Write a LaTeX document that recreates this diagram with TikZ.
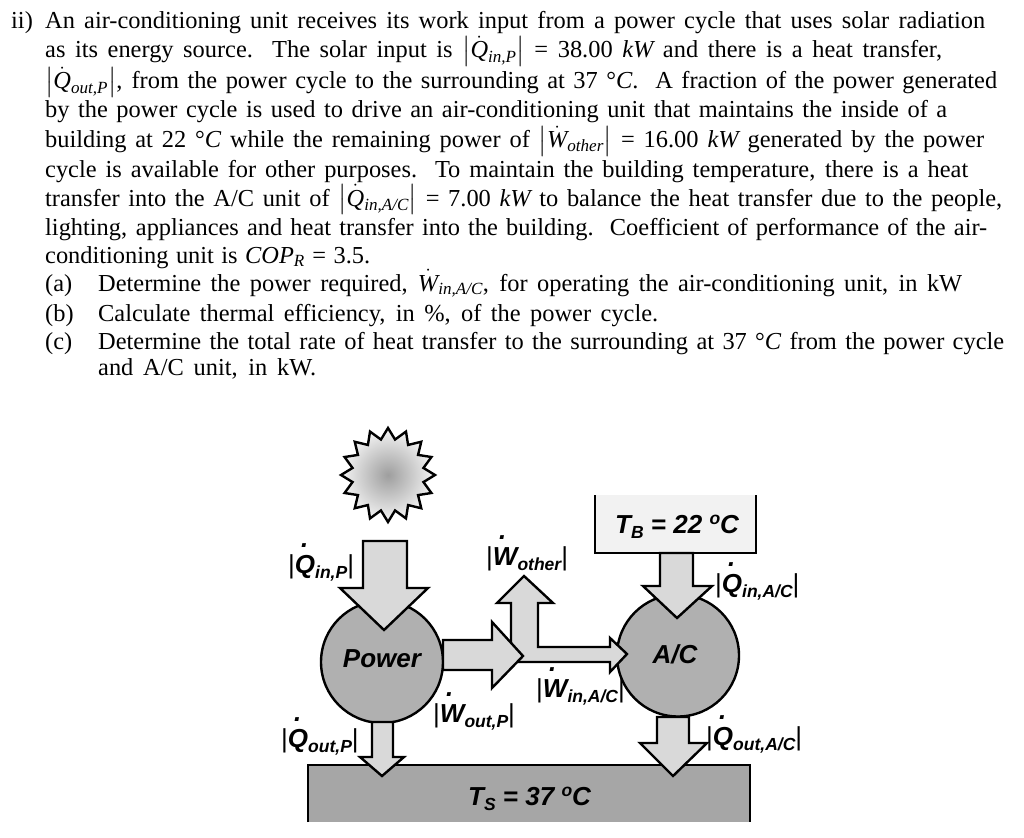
\documentclass[tikz,border=0pt]{standalone}
\usepackage{amsmath}
\usepackage{fontspec}
\setmainfont{Liberation Serif}
\setsansfont{Liberation Sans}
\usetikzlibrary{shapes.geometric}
\newcommand\dq[1]{\rlap{\raisebox{.98em}{\hspace{.24em}.}}#1}
\newcommand\flux[2]{{\sffamily\fontsize{26}{26}\selectfont\textup{\mdseries|}\bfseries\itshape\dq{#1}\raisebox{-5pt}{\fontsize{17.5}{17.5}\selectfont #2}\textup{\mdseries|}}}
\newcommand\mQ[1]{$\bigl|\dot{\text{\itshape Q}}_{\text{\itshape #1}}\bigr|$}
\newcommand\mW[1]{$\bigl|\dot{\text{\itshape W}}_{\text{\itshape #1}}\bigr|$}
\newcommand\li[1]{\itshape #1\upshape}
\newcommand\fitline[2]{\makebox[#1pt][s]{#2}}
\tikzset{
  txt/.style={anchor=base west,inner sep=0pt,font=\fontsize{24.4}{26}\selectfont},
  lab/.style={anchor=base west,inner sep=0pt},
  bigtxt/.style={inner sep=0pt,font=\sffamily\bfseries\itshape\fontsize{26}{26}\selectfont},
  unit/.style={circle,draw=black,line width=2.4pt,fill=black!31,minimum size=122pt,inner sep=0pt},
  blockarrow/.style={draw=black,line width=2.4pt,fill=black!15,line join=miter,miter limit=6},
  bodyline/.style={line width=2.4pt}
}
\begin{document}
\begin{tikzpicture}[x=1pt,y=-1pt]
\useasboundingbox (0,0) rectangle (1024,837);
% text
\node[txt] (t0) at (11,29) {ii)};
\node[txt] (t1) at (45,29) {\fitline{940}{An air-conditioning unit receives its work input from a power cycle that uses solar radiation}};
\node[txt] (t2) at (45,58) {\fitline{897}{as its energy source.\ \ The solar input is \mQ{in,P} = 38.00 \li{kW} and there is a heat transfer,}};
\node[txt] (t3) at (45,89) {\fitline{952}{\mQ{out,P}, from the power cycle to the surrounding at 37 °\li{C}.\ \ A fraction of the power generated}};
\node[txt] (t4) at (45,118) {\fitline{902}{by the power cycle is used to drive an air-conditioning unit that maintains the inside of a}};
\node[txt] (t5) at (45,148) {\fitline{939}{building at 22 °\li{C} while the remaining power of \mW{other} = 16.00 \li{kW} generated by the power}};
\node[txt] (t6) at (45,177) {\fitline{923}{cycle is available for other purposes.\ \ To maintain the building temperature, there is a heat}};
\node[txt] (t7) at (45,206) {\fitline{957}{transfer into the A/C unit of \mQ{in,A/C} = 7.00 \li{kW} to balance the heat transfer due to the people,}};
\node[txt] (t8) at (45,235) {\fitline{942}{lighting, appliances and heat transfer into the building.\ \ Coefficient of performance of the air-}};
\node[txt] (t9) at (45,263) {\fitline{325}{conditioning unit is \li{COP}$_{\text{\itshape R}}$ = 3.5.}};
\node[txt] (a0) at (45,291) {(a)};
\node[txt] (a1) at (98,291) {\fitline{864}{Determine the power required, $\dot{\text{\itshape W}}_{\text{\itshape in,A/C}}$, for operating the air-conditioning unit, in kW}};
\node[txt] (b0) at (45,321) {(b)};
\node[txt] (b1) at (98,321) {\fitline{560}{Calculate thermal efficiency, in \%, of the power cycle.}};
\node[txt] (c0) at (45,349) {(c)};
\node[txt] (c1) at (98,349) {\fitline{906}{Determine the total rate of heat transfer to the surrounding at 37 °\li{C} from the power cycle}};
\node[txt] (c2) at (98,375) {\fitline{218}{and A/C unit, in kW.}};
% reservoirs
\path[fill=black!35] (308,765) rectangle (750,822);
\draw[bodyline] (308,822) -- (308,765) -- (750,765) -- (750,822);
\path[fill=black!5] (595,495) rectangle (756,553);
\draw[bodyline] (595,495) -- (595,553) -- (756,553) -- (756,495);
\node[bigtxt,anchor=base west] (ts) at (468,805) {T\raisebox{-5pt}{\fontsize{17.5}{17.5}\selectfont S} = 37 \raisebox{9pt}{\fontsize{17.5}{17.5}\selectfont o}C};
\node[bigtxt,anchor=base west] (tb) at (615,533) {T\raisebox{-5pt}{\fontsize{17.5}{17.5}\selectfont B} = 22 \raisebox{9pt}{\fontsize{17.5}{17.5}\selectfont o}C};
% sun
\node[star,star points=16,star point ratio=1.3,minimum size=94pt,inner sep=0pt,draw=black,line width=2.4pt,inner color=black!38,outer color=black!4] (sun) at (388,475) {};
% units
\node[unit] (power) at (382,662) {};
\node[bigtxt] (powerlabel) at (382,659) {Power};
\node[unit] (ac) at (678,655.5) {};
\node[bigtxt] (aclabel) at (675,654) {A/C};
% block arrows
\draw[blockarrow] (363,541) -- (407,541) -- (407,588) -- (428,588) -- (384,630) -- (340,588) -- (363,588) -- cycle;
\draw[blockarrow] (372,722) -- (393,722) -- (393,757) -- (404,757) -- (382,776) -- (360,757) -- (372,757) -- cycle;
\draw[blockarrow] (511,662) -- (511,603) -- (497,603) -- (524,576) -- (553,603) -- (538,603) -- (538,647) -- (610,647) -- (610,638) -- (627,654) -- (610,672) -- (610,662) -- cycle;
\draw[blockarrow] (443,640) -- (492,640) -- (492,622) -- (523,656) -- (492,688) -- (492,670) -- (443,670) -- cycle;
\draw[blockarrow] (660,553) -- (693,553) -- (693,586) -- (712,586) -- (677,618) -- (643,586) -- (660,586) -- cycle;
\draw[blockarrow] (657,717) -- (689,717) -- (689,743) -- (707,743) -- (673,776) -- (640,743) -- (657,743) -- cycle;
% labels
\node[lab] (lqip) at (288,573) {\flux{Q}{in,P}};
\node[lab] (lwo) at (486,565) {\flux{W}{other}};
\node[lab] (lwop) at (433,722) {\flux{W}{out,P}};
\node[lab] (lqop) at (281,747) {\flux{Q}{out,P}};
\node[lab] (lwia) at (536,697) {\flux{W}{in,A/C}};
\node[lab] (lqia) at (715,592) {\flux{Q}{in,A/C}};
\node[lab] (lqoa) at (706,745) {\flux{Q}{out,A/C}};
\end{tikzpicture}
\end{document}
